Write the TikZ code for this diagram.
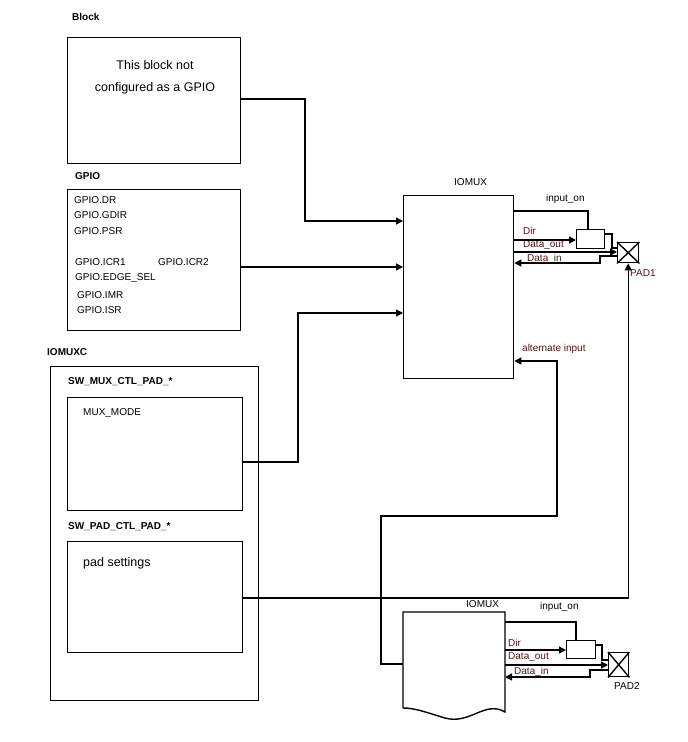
\documentclass[tikz,border=0pt]{standalone}
\usepackage{fontspec}
\setmainfont{Liberation Sans}
\usetikzlibrary{arrows.meta}
\definecolor{lbl}{RGB}{80,20,20}
\begin{document}
\begin{tikzpicture}[x=1pt,y=-1pt,
  box/.style={draw,line width=1.4pt,anchor=north west,inner sep=0pt},
  ln/.style={line width=1.4pt},
  ar/.style={ln,-{Triangle[length=7pt,width=7pt]}},
  t/.style={anchor=west,inner sep=0pt,font=\fontsize{10}{12}\selectfont},
  tb/.style={t,font=\fontsize{10}{12}\selectfont\bfseries},
  tr/.style={t,text=lbl}]
\useasboundingbox (0,0) rectangle (688,742);
% Block
\node[tb] (lblk) at (72,17) {Block};
\node[box,minimum width=173pt,minimum height=126pt] (blk) at (67,37) {};
\node[align=center,font=\fontsize{12.5}{22}\selectfont] (blkt) at (155,77) {This block not\\configured as a GPIO};
% GPIO
\node[tb] (lgp) at (75,176) {GPIO};
\node[box,minimum width=173pt,minimum height=141pt] (gpio) at (67,189) {};
\node[t] (g1) at (74,200) {GPIO.DR};
\node[t] (g2) at (74,215) {GPIO.GDIR};
\node[t] (g3) at (74,231) {GPIO.PSR};
\node[t] (g4) at (75,262) {GPIO.ICR1};
\node[t] (g5) at (158,262) {GPIO.ICR2};
\node[t] (g6) at (75,278) {GPIO.EDGE\_SEL};
\node[t] (g7) at (77,295) {GPIO.IMR};
\node[t] (g8) at (77,310) {GPIO.ISR};
% IOMUX 1
\node[t] (lmx) at (454,182) {IOMUX};
\node[box,minimum width=110pt,minimum height=183pt] (mux) at (403,195) {};
% IOMUXC
\node[tb] (lmc) at (47,352) {IOMUXC};
\node[box,minimum width=208pt,minimum height=334pt] (muxc) at (50,366) {};
\node[tb] (lsw1) at (68,382) {SW\_MUX\_CTL\_PAD\_*};
\node[box,minimum width=175pt,minimum height=113pt] (sw1) at (67,397) {};
\node[t] (mm) at (83,413) {MUX\_MODE};
\node[tb] (lsw2) at (68,527) {SW\_PAD\_CTL\_PAD\_*};
\node[box,minimum width=175pt,minimum height=111pt] (sw2) at (67,541) {};
\node[t,font=\fontsize{12.5}{14}\selectfont] (ps) at (83,563) {pad settings};
% IOMUX 2
\node[t] (lmx2) at (466,604) {IOMUX};
\draw[ln] (403,708) -- (403,612) coordinate (m2tl) -- (505,612) coordinate (m2tr) -- (505,712) coordinate (m2br)
  .. controls (485,700) and (470,725) .. (445,718) .. controls (425,712) and (415,708) .. (403,708);
% connectors to IOMUX1
\draw[ar] (240,99) -| (305,221) -- (mux.west |- 0,221);
\draw[ar] (gpio.east |- 0,267) -- (mux.west |- 0,267);
\draw[ar] (sw1.east |- 0,462) -| (298,313) -- (mux.west |- 0,313);
% PAD1 group
\node[box,minimum width=28pt,minimum height=19pt] (buf1) at (576,229) {};
\node[box,minimum width=21pt,minimum height=20pt] (pad1) at (617,242) {};
\draw[ln] (pad1.north west) -- (pad1.south east) (pad1.north east) -- (pad1.south west);
\node[tr] (lp1) at (630,273) {PAD1};
\node[t] (io1) at (546,199) {input\_on};
\node[tr] (d1) at (523,231) {Dir};
\node[tr] (do1) at (523,245) {Data\_out};
\node[tr] (di1) at (527,259) {Data\_in};
\draw[ln] (mux.east |- 0,211) -| (buf1.north -| 588,0);
\draw[ar] (mux.east |- 0,240) -- (buf1.west |- 0,240);
\draw[ar] (mux.east |- 0,252) -- (pad1.west |- 0,252);
\draw[ln] (buf1.east |- 0,234) -| (612,248) -- (pad1.west |- 0,248);
\draw[ar] (pad1.west |- 0,256) -| (600,263) -- (mux.east |- 0,263);
\draw[ar] (sw2.east |- 0,598) -| (pad1.south);
\node[tr] (ai) at (522,349) {alternate input};
\draw[ar] (m2tl |- 0,664) -| (381,516) -| (557,361) -- (mux.east |- 0,361);
% PAD2 group
\node[box,minimum width=29pt,minimum height=18pt] (buf2) at (566,640) {};
\node[box,minimum width=20pt,minimum height=24pt] (pad2) at (608,652) {};
\draw[ln] (pad2.north west) -- (pad2.south east) (pad2.north east) -- (pad2.south west);
\node[t] (lp2) at (614,686) {PAD2};
\node[t] (io2) at (540,607) {input\_on};
\node[tr] (d2) at (508,643) {Dir};
\node[tr] (do2) at (508,657) {Data\_out};
\node[tr] (di2) at (514,672) {Data\_in};
\draw[ln] (m2tr |- 0,622) -| (buf2.north -| 576,0);
\draw[ar] (m2tr |- 0,650) -- (buf2.west |- 0,650);
\draw[ar] (m2tr |- 0,665) -- (pad2.west |- 0,665);
\draw[ln] (buf2.east |- 0,645) -| (602,660) -- (pad2.west |- 0,660);
\draw[ar] (pad2.west |- 0,670) -| (590,677) -- (m2tr |- 0,677);
\end{tikzpicture}
\end{document}
